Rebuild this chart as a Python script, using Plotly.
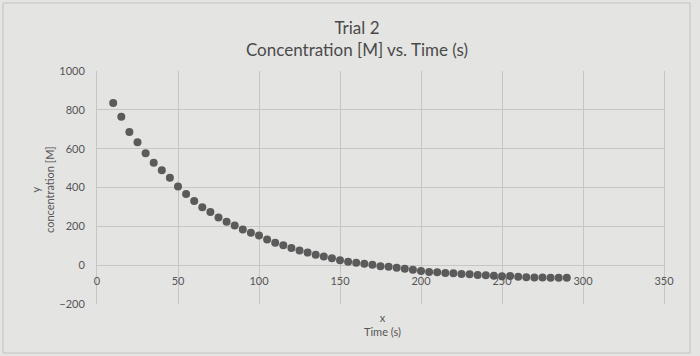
import plotly.graph_objects as go

# ---- data ----
time_s = [10, 15, 20, 25, 30, 35, 40, 45, 50, 55, 60, 65, 70, 75, 80, 85, 90, 95,
          100, 105, 110, 115, 120, 125, 130, 135, 140, 145, 150, 155, 160, 165,
          170, 175, 180, 185, 190, 195, 200, 205, 210, 215, 220, 225, 230, 235,
          240, 245, 250, 255, 260, 265, 270, 275, 280, 285, 290]
concentration = [835, 765, 686, 633, 576, 527, 489, 450, 405, 367, 330, 298, 274,
                 246, 223, 204, 184, 167, 153, 132, 116, 102, 88, 76, 65, 54, 45,
                 36, 25, 17, 12, 7, 2, -5, -8, -13, -19, -24, -30, -35, -37, -40,
                 -42, -46, -47, -51, -52, -55, -57, -56, -60, -62, -63, -64, -65,
                 -65, -65]
x_ticks = [0, 50, 100, 150, 200, 250, 300, 350]
y_ticks = [-200, 0, 200, 400, 600, 800, 1000]
title_lines = ["Trial 2", "Concentration [M] vs. Time (s)"]
x_title = ["x", "Time (s)"]
y_title = ["y", "concentration [M]"]

W, H = 700, 356
L, R, T, B = 97, 36, 71, 52
pw, ph = W - L - R, H - T - B

BG = "#e4e4e2"
GRID = "#c6c6c4"
TXT = "#555555"
FONT = "Lato"

fig = go.Figure()
fig.add_trace(go.Scatter(
    x=time_s, y=concentration, mode="markers",
    marker=dict(size=8, color="#5b5b5b", line=dict(width=0)),
    showlegend=False,
))

fig.update_layout(
    width=W, height=H,
    margin=dict(l=L, r=R, t=T, b=B),
    paper_bgcolor=BG, plot_bgcolor=BG,
    font=dict(family=FONT, color=TXT, size=11),
    title=dict(text="<br>".join(title_lines), x=357 / W, xanchor="center",
               y=1 - 34 / H, yanchor="middle", xref="container", yref="container",
               font=dict(size=17, color="#4a4a4a", family=FONT)),
    xaxis=dict(range=[0, 350], tickvals=x_ticks, showgrid=True, gridcolor=GRID,
               gridwidth=1, zeroline=False, showline=False, anchor="free",
               position=(0 - (-200)) / 1200, ticks="", ticklabelstandoff=8,
               tickfont=dict(size=11, color=TXT)),
    yaxis=dict(range=[-200, 1000], tickvals=y_ticks, showgrid=True, gridcolor=GRID,
               gridwidth=1, zeroline=True, zerolinecolor=GRID, zerolinewidth=1,
               showline=True, mirror=True, linecolor=GRID, linewidth=1, ticks="",
               ticklabelstandoff=9, tickfont=dict(size=11, color=TXT)),
)

# axis titles
fig.add_annotation(text="<br>".join(x_title), xref="paper", yref="paper",
                   x=(382 - L) / pw, y=(H - B - 324) / ph, xanchor="center",
                   yanchor="middle", showarrow=False,
                   font=dict(size=11, color=TXT, family=FONT))
fig.add_annotation(text="<br>".join(y_title), xref="paper", yref="paper",
                   x=(42 - L) / pw, y=(H - B - 190) / ph, xanchor="center",
                   yanchor="middle", textangle=-90, showarrow=False,
                   font=dict(size=11, color=TXT, family=FONT))

# outer chart frame of the printed chart
fig.add_shape(type="rect", xref="paper", yref="paper",
              x0=(3 - L) / pw, x1=(690 - L) / pw,
              y0=(H - B - 353) / ph, y1=(H - B - 3) / ph,
              line=dict(color="#c2c2c0", width=1), layer="below")

fig.write_html("out.html", config={"displayModeBar": False},
               post_script="document.body.style.margin='0px';")
